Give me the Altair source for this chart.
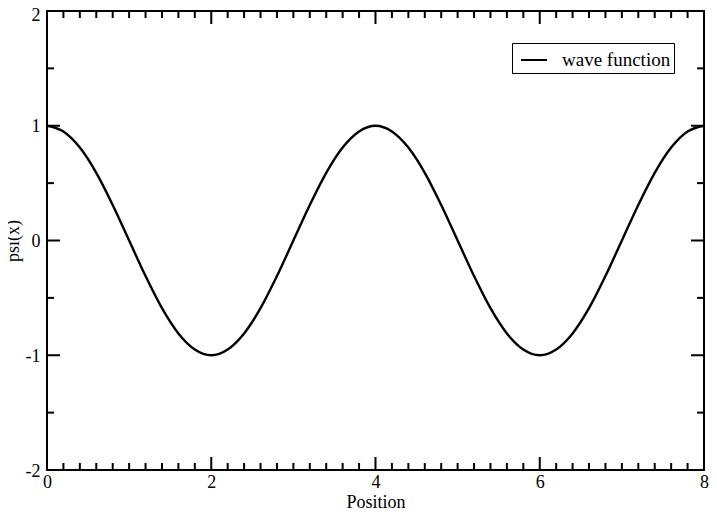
import altair as alt
import pandas as pd

# ---- data ----
positions = [0.0, 0.2, 0.4, 0.6, 0.8, 1.0, 1.2, 1.4, 1.6, 1.8,
             2.0, 2.2, 2.4, 2.6, 2.8, 3.0, 3.2, 3.4, 3.6, 3.8,
             4.0, 4.2, 4.4, 4.6, 4.8, 5.0, 5.2, 5.4, 5.6, 5.8,
             6.0, 6.2, 6.4, 6.6, 6.8, 7.0, 7.2, 7.4, 7.6, 7.8, 8.0]
psi = [1.00, 0.95, 0.81, 0.59, 0.31, 0.00, -0.31, -0.59, -0.81, -0.95,
       -1.00, -0.95, -0.81, -0.59, -0.31, 0.00, 0.31, 0.59, 0.81, 0.95,
       1.00, 0.95, 0.81, 0.59, 0.31, 0.00, -0.31, -0.59, -0.81, -0.95,
       -1.00, -0.95, -0.81, -0.59, -0.31, 0.00, 0.31, 0.59, 0.81, 0.95, 1.00]
series_name = "wave function"

x_labels = [0, 2, 4, 6, 8]
y_labels = [-2, -1, 0, 1, 2]
x_major_ticks = [0, 2, 4, 6, 8]
x_minor_ticks = [0.2, 0.4, 0.6, 0.8, 1.0, 1.2, 1.4, 1.6, 1.8,
                 2.2, 2.4, 2.6, 2.8, 3.0, 3.2, 3.4, 3.6, 3.8,
                 4.2, 4.4, 4.6, 4.8, 5.0, 5.2, 5.4, 5.6, 5.8,
                 6.2, 6.4, 6.6, 6.8, 7.0, 7.2, 7.4, 7.6, 7.8]
y_major_ticks = [-2, -1, 0, 1, 2]
y_minor_ticks = [-1.5, -0.5, 0.5, 1.5]

# ---- layout ----
W, H = 657, 459
MAJOR, MINOR = 13, 7
FONT = "Times New Roman, Liberation Serif, DejaVu Serif, serif"

xs = alt.Scale(domain=[0, 8], nice=False, zero=False)
ys = alt.Scale(domain=[-2, 2], nice=False, zero=False)

line_df = pd.DataFrame({"Position": positions, "psi": psi, "series": series_name})

label_expr = "(datum.value < 0 ? '-' : '') + abs(datum.value)"

line = alt.Chart(line_df).mark_line(strokeWidth=2.4, interpolate="monotone").encode(
    x=alt.X("Position:Q", scale=xs,
            axis=alt.Axis(values=x_labels, title="Position", labelExpr=label_expr,
                          tickSize=0, domain=False, grid=False, labelFlush=False,
                          labelPadding=3, titlePadding=2)),
    y=alt.Y("psi:Q", scale=ys,
            axis=alt.Axis(values=y_labels, title="psi(x)", labelExpr=label_expr,
                          tickSize=0, domain=False, grid=False, labelFlush=False,
                          labelPadding=7, titlePadding=3,
                          labelOffset={"condition": {"test": "datum.value == 2", "value": 4},
                                       "value": 1})),
    color=alt.Color("series:N",
                    scale=alt.Scale(domain=[series_name], range=["black"]),
                    legend=alt.Legend(title=None, orient="none", legendX=465, legendY=32,
                                      symbolType="stroke", symbolSize=676,
                                      symbolStrokeWidth=2, symbolOffset=5,
                                      labelFont=FONT, labelFontSize=19,
                                      labelColor="black", labelOffset=14, padding=3,
                                      strokeColor="black", fillColor="white")),
)


def vticks(vals, y0, y1):
    df = pd.DataFrame({"Position": vals})
    return alt.Chart(df).mark_rule(color="black", strokeWidth=2).encode(
        x=alt.X("Position:Q", scale=xs), y=alt.value(y0), y2=alt.value(y1))


def hticks(vals, x0, x1):
    df = pd.DataFrame({"psi": vals})
    return alt.Chart(df).mark_rule(color="black", strokeWidth=2).encode(
        y=alt.Y("psi:Q", scale=ys), x=alt.value(x0), x2=alt.value(x1))


layers = [
    line,
    vticks(x_major_ticks, H, H - MAJOR),
    vticks(x_minor_ticks, H, H - MINOR),
    vticks(x_major_ticks, 0, MAJOR),
    vticks(x_minor_ticks, 0, MINOR),
    hticks(y_major_ticks, 0, MAJOR),
    hticks(y_minor_ticks, 0, MINOR),
    hticks(y_major_ticks, W, W - MAJOR),
    hticks(y_minor_ticks, W, W - MINOR),
]

chart = alt.layer(*layers).properties(
    width=W, height=H,
    autosize=alt.AutoSizeParams(type="none"),
    padding={"left": 39, "top": 3, "right": 5, "bottom": 41},
    background="white",
).configure_view(
    stroke="black", strokeWidth=2
).configure_axis(
    labelFont=FONT, labelFontSize=18, labelColor="black",
    titleFont=FONT, titleFontSize=18, titleFontWeight="normal", titleColor="black",
)

chart.save("out.html", embed_options={"renderer": "svg", "actions": False})
